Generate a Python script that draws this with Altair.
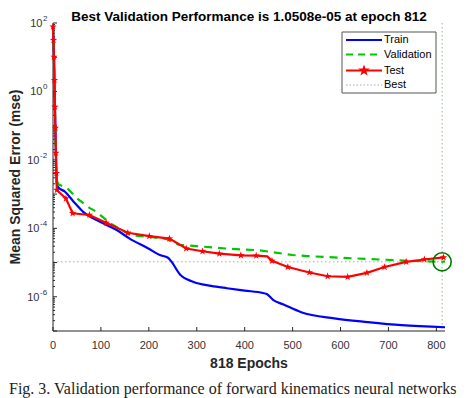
import altair as alt
import pandas as pd

# ---------------- data (epoch, log10 MSE) ----------------
train_epoch = [0, 2, 4, 6, 8, 11, 25, 43, 63, 98, 133, 160, 198, 223, 240, 246, 265, 292,
               330, 363, 400, 438, 446, 460, 480, 518, 587, 657, 727, 818]
train_log10 = [1.89, 1.01, -0.45, -1.80, -2.70, -2.80, -2.93, -3.22, -3.52, -3.81, -4.05, -4.30,
               -4.58, -4.78, -4.86, -4.95, -5.35, -5.56, -5.68, -5.75, -5.82, -5.89, -5.92,
               -6.10, -6.22, -6.45, -6.63, -6.74, -6.83, -6.89]

val_epoch = [0, 2, 4, 6, 8, 11, 29, 50, 77, 91, 119, 161, 203, 238, 262, 300, 360, 400, 430,
             460, 500, 530, 600, 680, 745, 812, 818]
val_log10 = [1.89, 1.01, -0.45, -1.80, -2.60, -2.71, -2.82, -3.12, -3.41, -3.52, -3.85, -4.20,
             -4.25, -4.32, -4.48, -4.52, -4.59, -4.62, -4.64, -4.70, -4.78, -4.81, -4.86,
             -4.91, -4.95, -4.978, -4.965]

test_epoch = [0, 1, 2, 3, 4, 5, 6, 7, 8, 27, 41, 76, 111, 156, 201, 243, 278, 312, 347, 392,
              424, 447, 457, 490, 535, 573, 615, 655, 692, 737, 775, 815]
test_log10 = [1.89, 1.50, 1.01, 0.33, -0.45, -1.07, -1.80, -2.39, -2.88, -3.13, -3.56, -3.61,
              -3.84, -4.13, -4.23, -4.30, -4.59, -4.67, -4.74, -4.79, -4.80, -4.82, -4.95,
              -5.13, -5.29, -5.40, -5.42, -5.30, -5.13, -4.98, -4.91, -4.85]
test_marker = [True] * 21 + [False] + [True] * 10

best_epoch = 812
best_perf = 1.0508e-05
n_epochs = 818

x_ticks = [0, 100, 200, 300, 400, 500, 600, 700, 800]
y_label_exps = [2, 0, -2, -4, -6]
legend_names = ["Train", "Validation", "Test", "Best"]

title_text = "Best Validation Performance is 1.0508e-05 at epoch 812"
x_title = "818 Epochs"
y_title = "Mean Squared Error  (mse)"
caption = "Fig. 3. Validation performance of forward kinematics neural networks"

# ---------------- tables ----------------
train_df = pd.DataFrame({"epoch": train_epoch, "mse": [10 ** v for v in train_log10]})
val_df = pd.DataFrame({"epoch": val_epoch, "mse": [10 ** v for v in val_log10]})
test_df = pd.DataFrame({"epoch": test_epoch, "mse": [10 ** v for v in test_log10]})
star_df = pd.DataFrame({"epoch": [e for e, m in zip(test_epoch, test_marker) if m],
                        "mse": [10 ** v for v, m in zip(test_log10, test_marker) if m]})
best_df = pd.DataFrame({"epoch": [best_epoch], "mse": [best_perf]})
xt_df = pd.DataFrame({"epoch": x_ticks, "lab": [str(t) for t in x_ticks]})
major_df = pd.DataFrame({"mse": [10.0 ** e for e in range(-7, 3)]})
minor_df = pd.DataFrame({"mse": [k * 10.0 ** e for e in range(-7, 2) for k in range(2, 10)]})
ylab_pos = pd.DataFrame({"mse": [10.0 ** e for e in y_label_exps if e >= 0],
                         "lab": [str(e) for e in y_label_exps if e >= 0]})
ylab_neg = pd.DataFrame({"mse": [10.0 ** e for e in y_label_exps if e < 0],
                         "lab": [str(e) for e in y_label_exps if e < 0]})
one = pd.DataFrame({"a": [0]})

W, H = 392, 308
FONT = "Liberation Sans"
AX = "#262626"
STAR = ("M0,-1L0.235,-0.324L0.951,-0.309L0.380,0.124L0.588,0.809L0,0.4"
        "L-0.588,0.809L-0.380,0.124L-0.951,-0.309L-0.235,-0.324Z")

xs = alt.Scale(domain=[0, n_epochs], nice=False, zero=False)
ys = alt.Scale(type="log", domain=[1e-7, 1e2], nice=False)


def X(f="epoch:Q"):
    return alt.X(f, scale=xs, axis=None)


def Y(f="mse:Q"):
    return alt.Y(f, scale=ys, axis=None)


def txt(s, x, y, **kw):
    return alt.Chart(one).mark_text(**kw).encode(x=alt.value(x), y=alt.value(y), text=alt.value(s))


layers = []
# best lines
layers.append(alt.Chart(best_df).mark_rule(color="#9aba9a", strokeWidth=1, strokeDash=[1.5, 2.5]).encode(
    y=Y(), x=alt.value(0), x2=alt.value(W)))
layers.append(alt.Chart(best_df).mark_rule(color="#88bf88", strokeWidth=1, strokeDash=[1.5, 2.5]).encode(
    x=X(), y=alt.value(0), y2=alt.value(H)))
# axes
layers.append(alt.Chart(one).mark_rule(color=AX, strokeWidth=1).encode(
    x=alt.value(0), y=alt.value(0), y2=alt.value(H)))
layers.append(alt.Chart(one).mark_rule(color=AX, strokeWidth=1).encode(
    x=alt.value(0), x2=alt.value(W), y=alt.value(H)))
layers.append(alt.Chart(xt_df).mark_rule(color=AX, strokeWidth=1).encode(
    x=X(), y=alt.value(H), y2=alt.value(H - 4)))
layers.append(alt.Chart(major_df).mark_rule(color=AX, strokeWidth=1).encode(
    y=Y(), x=alt.value(0), x2=alt.value(4)))
layers.append(alt.Chart(minor_df).mark_rule(color=AX, strokeWidth=1).encode(
    y=Y(), x=alt.value(0), x2=alt.value(2)))
layers.append(alt.Chart(xt_df).mark_text(font=FONT, fontSize=11, color="#333333", align="center",
                                         baseline="alphabetic").encode(
    x=X(), y=alt.value(H + 18), text="lab:N"))
for df, xb in [(ylab_pos, -10.5), (ylab_neg, -13.5)]:
    layers.append(alt.Chart(df).mark_text(font=FONT, fontSize=11, color="#333333", align="right",
                                          baseline="middle", dy=1).encode(
        y=Y(), x=alt.value(xb), text=alt.value("10")))
    layers.append(alt.Chart(df).mark_text(font=FONT, fontSize=8, color="#333333", align="left",
                                          baseline="middle", dy=-4).encode(
        y=Y(), x=alt.value(xb + 0.5), text="lab:N"))

# series
layers.append(alt.Chart(train_df).mark_line(color="#0000ff", strokeWidth=2.2, interpolate="monotone").encode(
    x=X(), y=Y()))
layers.append(alt.Chart(val_df).mark_line(color="#00c800", strokeWidth=2.2, strokeDash=[8, 6]).encode(
    x=X(), y=Y()))
layers.append(alt.Chart(test_df).mark_line(color="#ff0000", strokeWidth=2.2).encode(
    x=X(), y=Y()))
layers.append(alt.Chart(star_df).mark_point(shape=STAR, filled=True, color="#ff0000", size=60,
                                            opacity=1).encode(x=X(), y=Y()))
layers.append(alt.Chart(best_df).mark_point(shape="circle", filled=False, color="#007a00",
                                            size=330, strokeWidth=1.6, opacity=1).encode(x=X(), y=Y()))

# titles
layers.append(txt(title_text, W / 2, -2, font=FONT, fontSize=13.5, fontWeight="bold", color="#000000",
                  align="center", baseline="alphabetic"))
layers.append(txt(x_title, W / 2, 345, font=FONT, fontSize=14, fontWeight="bold", color="#262626",
                  align="center", baseline="alphabetic"))
layers.append(txt(y_title, -37, H / 2, font=FONT, fontSize=14, fontWeight="bold", color="#262626",
                  align="center", baseline="middle", angle=270))
layers.append(txt(caption, -44, 370.5, font="Liberation Serif", fontSize=16, color="#222222",
                  align="left", baseline="alphabetic"))

# legend
lx0, lx1, ly0, ly1 = 289, 383, 9, 70
rows = [17, 31.5, 47.5, 62]
layers.append(alt.Chart(one).mark_rect(fill="white", stroke="#555555", strokeWidth=1).encode(
    x=alt.value(lx0), x2=alt.value(lx1), y=alt.value(ly0), y2=alt.value(ly1)))
styles = [dict(color="#0000ff", strokeWidth=2.2),
          dict(color="#00c800", strokeWidth=2.2, strokeDash=[7, 5]),
          dict(color="#ff0000", strokeWidth=2.2),
          dict(color="#aaaaaa", strokeWidth=1, strokeDash=[1.5, 2])]
for name, ry, st in zip(legend_names, rows, styles):
    layers.append(alt.Chart(one).mark_rule(**st).encode(
        x=alt.value(lx0 + 4), x2=alt.value(lx0 + 40), y=alt.value(ry)))
    layers.append(txt(name, lx0 + 42, ry, font=FONT, fontSize=11, color="#000000",
                      align="left", baseline="middle"))
layers.append(alt.Chart(one).mark_point(shape=STAR, filled=True, color="#ff0000", size=150,
                                        opacity=1).encode(x=alt.value(lx0 + 22), y=alt.value(rows[2])))

chart = alt.layer(*layers).properties(
    width=W, height=H,
    autosize=alt.AutoSizeParams(type="none"),
    padding={"left": 45, "top": 15, "right": 21, "bottom": 67},
).configure_view(stroke=None)

chart.save("out.html", embed_options={"renderer": "svg", "actions": False})
